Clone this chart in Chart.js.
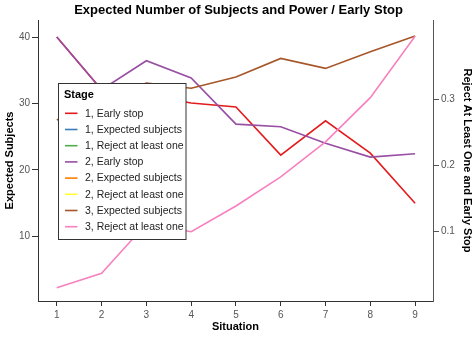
<!DOCTYPE html>
<html>
<head>
<meta charset="utf-8">
<script src="https://cdn.jsdelivr.net/npm/chart.js@4.4.1/dist/chart.umd.min.js"></script>
<style>
  html, body { margin: 0; padding: 0; background: #fff; }
  #wrap { width: 474px; height: 338px; }
</style>
</head>
<body>
<div id="wrap"><canvas id="c" width="474" height="338"></canvas></div>
<script>
// ---- data ----
const situations = [1, 2, 3, 4, 5, 6, 7, 8, 9];
const xTicks = [1, 2, 3, 4, 5, 6, 7, 8, 9];
const leftTicks = [10, 20, 30, 40];
const rightTicks = [0.1, 0.2, 0.3];
const seriesLabels = [
  '1, Early stop', '1, Expected subjects', '1, Reject at least one',
  '2, Early stop', '2, Expected subjects', '2, Reject at least one',
  '3, Expected subjects', '3, Reject at least one'
];
const stage1EarlyStop   = [0.394, 0.314, 0.306, 0.294, 0.288, 0.215, 0.267, 0.218, 0.142];
const stage1Expected    = [null, null, null, null, null, null, null, null, null];
const stage1Reject      = [null, null, null, null, null, null, null, null, null];
const stage2EarlyStop   = [0.394, 0.314, 0.358, 0.332, 0.262, 0.258, 0.233, 0.212, 0.217];
const stage2Expected    = [null, null, null, null, null, null, null, null, null];
const stage2Reject      = [null, null, null, null, null, null, null, null, null];
const stage3Expected    = [27.5, 30.5, 33.1, 32.3, 34.0, 36.8, 35.3, 37.8, 40.2];
const stage3Reject      = [0.014, 0.036, 0.111, 0.099, 0.138, 0.182, 0.235, 0.302, 0.395];

const seriesValues = [stage1EarlyStop, stage1Expected, stage1Reject,
                      stage2EarlyStop, stage2Expected, stage2Reject,
                      stage3Expected, stage3Reject];
const seriesAxis = ['yR', 'yL', 'yR', 'yR', 'yL', 'yR', 'yL', 'yR'];
const seriesColors = ['#E41A1C', '#377EB8', '#4DAF4A', '#984EA3',
                      '#FF7F00', '#FFFF33', '#A65628', '#F781BF'];

const FONT = "'Liberation Sans', Arial, Helvetica, sans-serif";

const datasets = seriesValues.map((vals, i) => ({
  label: seriesLabels[i],
  data: situations.map((s, j) => ({ x: s, y: vals[j] })),
  yAxisID: seriesAxis[i],
  borderColor: seriesColors[i],
  backgroundColor: seriesColors[i],
  borderWidth: 1.6,
  pointRadius: 0,
  tension: 0,
  fill: false,
  order: seriesValues.length - i
}));

// custom legend box inside the plot (like the reference)
const boxLegend = {
  id: 'boxLegend',
  afterDraw(chart) {
    const ctx = chart.ctx;
    const x0 = 58.5, y0 = 83.5, w = 127.5, h = 156;
    ctx.save();
    ctx.fillStyle = '#fff';
    ctx.fillRect(x0, y0, w, h);
    ctx.strokeStyle = '#333';
    ctx.lineWidth = 1;
    ctx.strokeRect(x0, y0, w, h);
    ctx.fillStyle = '#000';
    ctx.textBaseline = 'middle';
    ctx.textAlign = 'left';
    ctx.font = 'bold 11px ' + FONT;
    ctx.fillText('Stage', 64, 95);
    ctx.font = '10.5px ' + FONT;
    chart.data.datasets.forEach((ds, i) => {
      const y = 113.3 + i * 16.2;
      ctx.strokeStyle = ds.borderColor;
      ctx.lineWidth = 1.6;
      ctx.beginPath();
      ctx.moveTo(65, y);
      ctx.lineTo(77.5, y);
      ctx.stroke();
      ctx.fillStyle = '#222';
      ctx.fillText(ds.label, 85, y + 0.5);
    });
    ctx.restore();
  }
};

const tickFont = { family: FONT, size: 10 };
const tickColor = '#555';

new Chart(document.getElementById('c'), {
  type: 'line',
  data: { datasets },
  plugins: [boxLegend],
  options: {
    responsive: false,
    animation: false,
    layout: { padding: { left: 3, right: 0, top: 0, bottom: 4 } },
    plugins: {
      legend: { display: false },
      tooltip: { enabled: false },
      title: {
        display: true,
        text: 'Expected Number of Subjects and Power / Early Stop',
        color: '#000',
        font: { family: FONT, size: 13, weight: 'bold' },
        padding: { top: 3, bottom: 1.4 }
      }
    },
    scales: {
      x: {
        type: 'linear',
        min: 0.58, max: 9.4,
        afterBuildTicks: s => { s.ticks = xTicks.map(v => ({ value: v })); },
        afterFit: s => { s.height = 33; },
        ticks: { font: tickFont, color: tickColor, padding: 3, maxRotation: 0,
                 callback: v => String(v) },
        grid: { drawOnChartArea: false, drawTicks: true, tickLength: 5, color: '#333', lineWidth: 1 },
        border: { display: true, color: '#333', width: 1 },
        title: { display: true, text: 'Situation', color: '#000', padding: 0,
                 font: { family: FONT, size: 11, weight: 'bold' } }
      },
      yL: {
        type: 'linear', position: 'left',
        min: 0.2, max: 42.6,
        afterBuildTicks: s => { s.ticks = leftTicks.map(v => ({ value: v })); },
        afterFit: s => { s.width = 35; },
        ticks: { font: tickFont, color: tickColor, padding: 2, callback: v => String(v) },
        grid: { drawOnChartArea: false, drawTicks: true, tickLength: 6, color: '#333', lineWidth: 1 },
        border: { display: true, color: '#333', width: 1 },
        title: { display: true, text: 'Expected Subjects', color: '#000', padding: 0,
                 font: { family: FONT, size: 11, weight: 'bold' } }
      },
      yR: {
        type: 'linear', position: 'right',
        min: -0.006, max: 0.4197,
        afterBuildTicks: s => { s.ticks = rightTicks.map(v => ({ value: v })); },
        afterFit: s => { s.width = 41; },
        ticks: { font: tickFont, color: tickColor, padding: 2, callback: v => String(v) },
        grid: { drawOnChartArea: false, drawTicks: true, tickLength: 6, color: '#555', lineWidth: 1 },
        border: { display: true, color: '#555', width: 1 },
        title: { display: true, text: 'Reject At Least One and Early Stop', color: '#000', padding: 0,
                 font: { family: FONT, size: 11, weight: 'bold' } }
      }
    }
  }
});
</script>
</body>
</html>
